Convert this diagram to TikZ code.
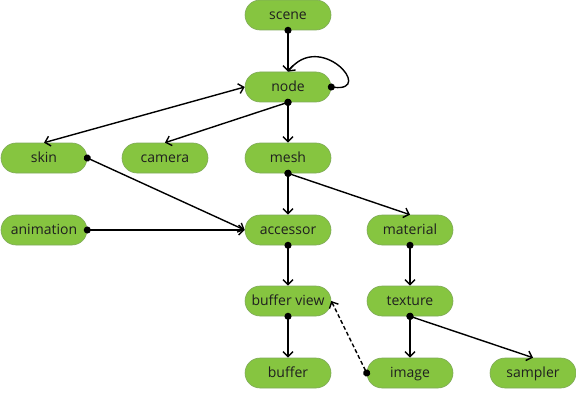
\documentclass[tikz,border=0pt]{standalone}
\usepackage{fontspec}
\setmainfont{Open Sans}
\usetikzlibrary{arrows.meta}
\definecolor{nodegreen}{RGB}{134,197,64}
\definecolor{nodeborder}{RGB}{128,170,90}
\tikzset{
  gnode/.style={rounded corners=15pt, fill=nodegreen, draw=nodeborder, line width=0.6pt,
    minimum width=86pt, minimum height=30pt, inner sep=0pt, text=black!88,
    text height=11.5pt, text depth=2.5pt,
    font=\fontsize{14pt}{16pt}\selectfont},
  edge/.style={line width=1.4pt, -{Straight Barb[length=5pt,width=10pt]}},
  dotedge/.style={line width=1.4pt, {Circle[length=7pt]}-{Straight Barb[length=5pt,width=10pt]}, shorten <=-3.5pt},
}
\begin{document}
\begin{tikzpicture}[x=1pt,y=-1pt]
\useasboundingbox (0,0) rectangle (576,404);
\node[gnode] (scene) at (288,15) {scene};
\node[gnode] (node) at (288,87) {node};
\node[gnode] (skin) at (44,158) {skin};
\node[gnode] (camera) at (165,158) {camera};
\node[gnode] (mesh) at (288,158) {mesh};
\node[gnode] (animation) at (44,230) {animation};
\node[gnode] (accessor) at (288,230) {accessor};
\node[gnode] (material) at (410,230) {material};
\node[gnode] (bufferview) at (288,301) {buffer view};
\node[gnode] (texture) at (410,301) {texture};
\node[gnode] (buffer) at (288,373) {buffer};
\node[gnode] (image) at (410,373) {image};
\node[gnode] (sampler) at (533,373) {sampler};

\draw[dotedge] (scene.south) -- (node.north);
\draw[dotedge] (node.east) .. controls (375,92) and (320,30) .. (node.north);
\draw[edge, {Straight Barb[length=5pt,width=10pt]}-{Straight Barb[length=5pt,width=10pt]}] (skin.north) -- (node.west);
\draw[dotedge] (node.south) -- (camera.north);
\draw[dotedge] (node.south) -- (mesh.north);
\draw[dotedge] (skin.east) -- (accessor.west);
\draw[dotedge] (animation.east) -- (accessor.west);
\draw[dotedge] (mesh.south) -- (accessor.north);
\draw[dotedge] (mesh.south) -- (material.north);
\draw[dotedge] (accessor.south) -- (bufferview.north);
\draw[dotedge] (material.south) -- (texture.north);
\draw[dotedge] (bufferview.south) -- (buffer.north);
\draw[dotedge] (texture.south) -- (image.north);
\draw[dotedge] (texture.south) -- (sampler.north);
\draw[dotedge, dash pattern=on 4pt off 2.5pt] (image.west) -- (bufferview.east);
\end{tikzpicture}
\end{document}
